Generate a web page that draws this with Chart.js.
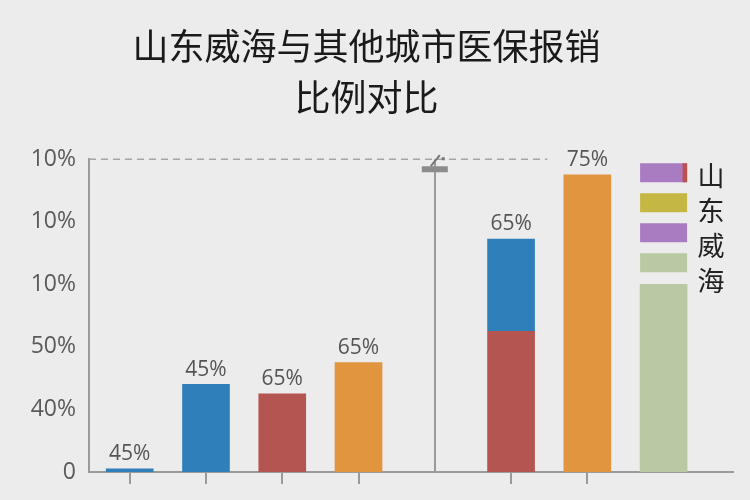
<!DOCTYPE html>
<html>
<head>
<meta charset="utf-8">
<script src="https://cdn.jsdelivr.net/npm/chart.js@4.4.1/dist/chart.umd.min.js"></script>
<style>
  html, body { margin: 0; padding: 0; background: #ececec; }
  #wrap { width: 750px; height: 500px; }
</style>
</head>
<body>
<div id="wrap"><canvas id="chart" width="750" height="500"></canvas></div>
<script>
// Chart data
const cities = ['山东威海', '济南', '青岛', '烟台', '', '潍坊', '临沂', '淄博'];
const baseValues = [1, 28, 25, 35, null, 45, 95, 60];
const topValues = [null, null, null, null, null, 29.5, null, null];
const barLabels = ['45%', '45%', '65%', '65%', '', '65%', '75%', ''];
const yTickLabels = ['0', '40%', '50%', '10%', '10%', '10%'];
const xTickIndex = [0, 1, 2, 3, 4, 5, 6];
const dividerIndex = 4;
const legendItems = ['山', '东', '威', '海'];

const barColors = ['#2f7fba', '#2f7fba', '#b55552', '#e1953f', 'transparent', '#b55552', '#e1953f', '#b9c9a3'];
const topColor = '#2f7fba';
const legendColors = ['#a97cc2', '#c5b743', '#a97cc2', '#b9c9a3'];
const axisColor = '#9a9a9a';
const numFont = '"Open Sans", "DejaVu Sans", sans-serif';
const cjkFont = '"Noto Sans CJK SC", "Noto Sans", sans-serif';

const bgPlugin = {
    id: 'bg',
    beforeDraw(chart) {
        const ctx = chart.ctx;
        ctx.save();
        ctx.fillStyle = '#ececec';
        ctx.fillRect(0, 0, chart.width, chart.height);
        ctx.restore();
    }
};

// dashed top line, stops before the tallest bar's label
const topLinePlugin = {
    id: 'topLine',
    beforeDatasetsDraw(chart) {
        const { ctx, chartArea, scales: { x, y } } = chart;
        const py = y.getPixelForValue(y.max);
        ctx.save();
        ctx.strokeStyle = '#a5a5a5';
        ctx.lineWidth = 1.5;
        ctx.setLineDash([7, 5]);
        ctx.beginPath();
        ctx.moveTo(chartArea.left, py);
        ctx.lineTo(x.getPixelForValue(6) - 40, py);
        ctx.stroke();
        ctx.restore();
    }
};

// little cap + slash on top of the divider line
const dividerPlugin = {
    id: 'divider',
    afterDraw(chart) {
        const { ctx, scales: { x, y } } = chart;
        const px = x.getPixelForValue(dividerIndex);
        const py = y.getPixelForValue(y.max);
        ctx.save();
        ctx.fillStyle = '#8c8c8c';
        ctx.fillRect(px - 13, py + 7, 26, 6);
        ctx.strokeStyle = '#777';
        ctx.lineWidth = 2;
        ctx.beginPath();
        ctx.moveTo(px - 4, py + 7);
        ctx.lineTo(px + 5, py - 4);
        ctx.stroke();
        ctx.fillStyle = '#777';
        ctx.fillRect(px + 7, py - 2, 3, 3);
        ctx.restore();
    }
};

const barLabelPlugin = {
    id: 'barLabels',
    afterDatasetsDraw(chart) {
        const { ctx, scales: { x, y } } = chart;
        ctx.save();
        ctx.font = '21px ' + numFont;
        ctx.fillStyle = '#555';
        ctx.textAlign = 'center';
        ctx.textBaseline = 'bottom';
        barLabels.forEach((lbl, i) => {
            if (!lbl) return;
            const total = (baseValues[i] || 0) + (topValues[i] || 0);
            ctx.fillText(lbl, x.getPixelForValue(i), y.getPixelForValue(total) - 4);
        });
        ctx.restore();
    }
};

const legendPlugin = {
    id: 'sideLegend',
    afterDraw(chart) {
        const { ctx, chartArea, scales: { x } } = chart;
        const cx = x.getPixelForValue(cities.length - 1);
        ctx.save();
        legendItems.forEach((txt, k) => {
            const top = chartArea.top + 4 + k * 30;
            ctx.fillStyle = legendColors[k];
            ctx.fillRect(cx - 23.5, top, 47, 19);
            if (k === 0) {
                ctx.fillStyle = '#c0504d';
                ctx.fillRect(cx + 19, top, 4.5, 19);
            }
            ctx.fillStyle = '#222';
            ctx.font = '27px ' + cjkFont;
            ctx.textAlign = 'left';
            ctx.textBaseline = 'middle';
            ctx.fillText(txt, cx + 34, chartArea.top + 16 + k * 35);
        });
        ctx.restore();
    }
};

new Chart(document.getElementById('chart'), {
    type: 'bar',
    data: {
        datasets: [
            { label: '报销比例', data: baseValues.map((v, i) => ({ x: i, y: v })), backgroundColor: barColors, barThickness: 47 },
            { label: '附加', data: topValues.map((v, i) => ({ x: i, y: v })), backgroundColor: topColor, barThickness: 47 }
        ]
    },
    options: {
        responsive: false,
        animation: false,
        layout: { padding: { left: 0, right: 17, top: 21, bottom: 0 } },
        plugins: {
            legend: { display: false },
            tooltip: { enabled: false },
            title: {
                display: true,
                text: ['山东威海与其他城市医保报销', '比例对比'],
                color: '#1a1a1a',
                font: { size: 36, family: cjkFont, weight: 'normal', lineHeight: 1.42 },
                padding: { top: 0, bottom: 36 }
            }
        },
        scales: {
            x: {
                type: 'linear', min: -0.534, max: 7.91, stacked: true, offset: false,
                grid: {
                    offset: false,
                    color: (c) => c.tick && c.tick.value === dividerIndex ? axisColor : 'transparent',
                    tickColor: (c) => c.tick && c.tick.value === dividerIndex ? 'transparent' : axisColor,
                    lineWidth: 2, tickLength: 12
                },
                border: { color: axisColor, width: 2 },
                ticks: { callback: () => '' },
                afterBuildTicks: (s) => { s.ticks = xTickIndex.map(v => ({ value: v })); },
                afterFit: (s) => { s.height = 28; }
            },
            y: {
                min: 0, max: 100, stacked: true,
                ticks: {
                    stepSize: 20,
                    callback: (v, i) => yTickLabels[i],
                    color: '#5a5a5a',
                    font: { size: 23, family: numFont },
                    padding: 13
                },
                grid: { display: false, drawTicks: false },
                border: { color: axisColor, width: 2 },
                afterFit: (s) => { s.width = 89; }
            }
        }
    },
    plugins: [bgPlugin, topLinePlugin, dividerPlugin, barLabelPlugin, legendPlugin]
});
</script>
</body>
</html>
